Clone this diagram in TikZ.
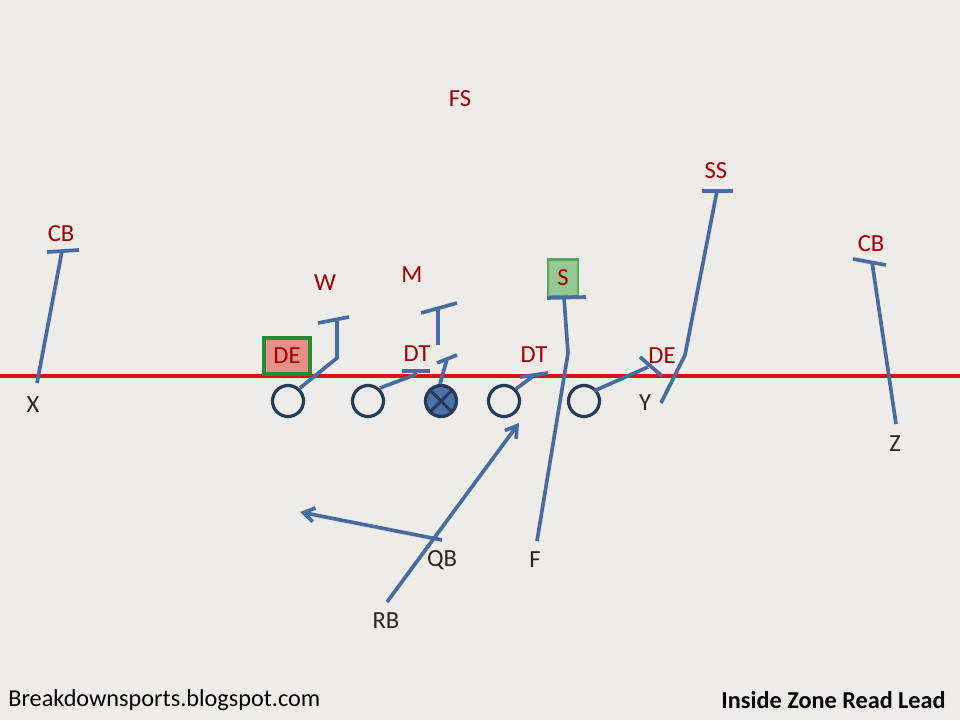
\documentclass[tikz,border=0pt]{standalone}
\usepackage{fontspec}
\setmainfont{Carlito}
\usepackage{xcolor}
\usetikzlibrary{arrows.meta,calc,positioning}
\definecolor{fieldbg}{RGB}{238,236,233}
\definecolor{losred}{RGB}{214,18,18}
\definecolor{routeblue}{RGB}{72,108,160}
\definecolor{olnavy}{RGB}{36,58,88}
\definecolor{centerblue}{RGB}{78,112,168}
\definecolor{defred}{RGB}{165,0,0}
\definecolor{deboxfill}{RGB}{230,142,136}
\definecolor{deboxedge}{RGB}{34,140,52}
\definecolor{sboxfill}{RGB}{150,200,148}
\definecolor{sboxedge}{RGB}{88,168,90}
\tikzset{%
	lineman/.style = {draw=olnavy, circle, line width=1.8pt, minimum size=0.62cm, inner sep=0pt},
	snapper/.style = {lineman, fill=centerblue, path picture={\draw[olnavy, line width=1.8pt] (path picture bounding box.north west) -- (path picture bounding box.south east) (path picture bounding box.north east) -- (path picture bounding box.south west);}},
	offense/.style = {text=black!85, font=\fontsize{14}{16}\selectfont, inner sep=1pt},
	defense/.style = {text=defred, font=\fontsize{14}{16}\selectfont, inner sep=1pt},
	route/.style   = {routeblue, line width=2.1pt},
	block/.style   = {routeblue, line width=2.1pt},
	arrow/.style   = {route, -{Straight Barb[length=0.22cm,width=0.28cm]}},
	debox/.style   = {defense, draw=deboxedge, fill=deboxfill, line width=2pt, minimum width=0.92cm, minimum height=0.72cm},
	sbox/.style    = {defense, draw=sboxedge, fill=sboxfill, line width=1.3pt, minimum width=0.6cm, minimum height=0.74cm},
}

\begin{document}
\begin{tikzpicture}[x=0.02cm, y=-0.02cm]
	\fill[fieldbg] (0,0) rectangle (960,720);
	\useasboundingbox (0,0) rectangle (960,720);
	
	% line of scrimmage
	\coordinate (losl) at (0,376);
	\coordinate (losr) at (960,376);
	\draw[losred, line width=2.3pt] (losl) -- (losr);
	
	% offense
	\node[lineman] (lt) at (288,401) {};
	\node[lineman] (lg) at (368,401) {};
	\node[snapper] (c) at (441,401) {};
	\node[lineman] (rg) at (504,401) {};
	\node[lineman] (rt) at (584,401) {};
	\node[offense] (x) at (33,405) {X};
	\node[offense] (y) at (645,403) {Y};
	\node[offense] (z) at (895,444) {Z};
	\node[offense] (qb) at (442,560) {QB};
	\node[offense] (f) at (535,560) {F};
	\node[offense] (rb) at (386,621) {RB};
	
	% defense
	\node[defense] (cbl) at (61,234) {CB};
	\node[defense] (w) at (325,283) {W};
	\node[defense] (m) at (412,275) {M};
	\node[defense] (fs) at (460,99) {FS};
	\node[defense] (ss) at (716,171) {SS};
	\node[defense] (cbr) at (871,244) {CB};
	\node[defense] (dtl) at (417,354) {DT};
	\node[defense] (dtr) at (534,355) {DT};
	\node[defense] (der) at (662,356) {DE};
	\node[debox] (del) at (287,356) {DE};
	\node[sbox] (s) at (563,278) {S};
	
	% X and Z
	\coordinate (xs) at (37,383);
	\coordinate (xe) at (62,251);
	\coordinate (xb1) at (47,252);
	\coordinate (xb2) at (79,250);
	\draw[route] (xs) -- (xe);
	\draw[block] (xb1) -- (xb2);
	\coordinate (zs) at (896,424);
	\coordinate (ze) at (872,262);
	\coordinate (zb1) at (853,259);
	\coordinate (zb2) at (886,265);
	\draw[route] (zs) -- (ze);
	\draw[block] (zb1) -- (zb2);
	
	% Y on the SS
	\coordinate (ys) at (661,403);
	\coordinate (yk) at (685,355);
	\coordinate (ye) at (717,191);
	\coordinate (yb1) at (702,191);
	\coordinate (yb2) at (733,191);
	\draw[route] (ys) -- (yk) -- (ye);
	\draw[block] (yb1) -- (yb2);
	
	% line blocks
	\coordinate (rte) at (648,367);
	\coordinate (rtb1) at (640,357);
	\coordinate (rtb2) at (662,376);
	\draw[block] (rt.north east) ++(-2,2) coordinate (rts) -- (rte);
	\draw[block] (rtb1) -- (rtb2);
	\coordinate (rge) at (532,377);
	\coordinate (rgb1) at (520,377);
	\coordinate (rgb2) at (548,373);
	\draw[block] (rg.north east) coordinate (rgs) -- (rge);
	\draw[block] (rgb1) -- (rgb2);
	\coordinate (lgs) at (380,388);
	\coordinate (lge) at (417,374);
	\coordinate (lgb1) at (402,371);
	\coordinate (lgb2) at (430,371);
	\draw[block] (lgs) -- (lge);
	\draw[block] (lgb1) -- (lgb2);
	\coordinate (cs) at (440,384);
	\coordinate (ce) at (447,359);
	\coordinate (cb1) at (437,363);
	\coordinate (cb2) at (457,355);
	\draw[block] (cs) -- (ce);
	\draw[block] (cb1) -- (cb2);
	\coordinate (ms) at (438,345);
	\coordinate (me) at (438,310);
	\coordinate (mb1) at (421,313);
	\coordinate (mb2) at (457,303);
	\draw[block] (ms) -- (me);
	\draw[block] (mb1) -- (mb2);
	\coordinate (lts) at (300,388);
	\coordinate (ltk) at (337,358);
	\coordinate (lte) at (337,318);
	\coordinate (ltb1) at (318,323);
	\coordinate (ltb2) at (349,317);
	\draw[block] (lts) -- (ltk) -- (lte);
	\draw[block] (ltb1) -- (ltb2);
	
	% F on the S
	\coordinate (fs0) at (537,541);
	\coordinate (fk) at (568,353);
	\coordinate (fe) at (564,298);
	\coordinate (fb1) at (547,298);
	\coordinate (fb2) at (586,297);
	\draw[route] (fs0) -- (fk) -- (fe);
	\draw[block] (fb1) -- (fb2);
	
	% backfield
	\coordinate (rbs) at (387,602);
	\coordinate (rbe) at (519,423);
	\draw[arrow] (rbs) -- (rbe);
	\coordinate (qbs) at (442,540);
	\coordinate (qbe) at (300,512);
	\draw[arrow] (qbs) -- (qbe);
	
	\node[text=black, font=\fontsize{13.8}{16}\selectfont, anchor=west, inner sep=0pt] (blog) at (8,700) {Breakdownsports.blogspot.com};
	\node[text=black, font=\fontsize{13.8}{16}\selectfont\bfseries, anchor=east, inner sep=0pt] (title) at (946,700) {Inside Zone Read Lead};
\end{tikzpicture}
\end{document}
